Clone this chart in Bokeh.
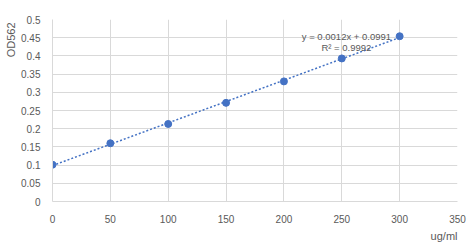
import numpy as np
from bokeh.plotting import figure
from bokeh.models import FixedTicker, Label, Range1d, Title
from bokeh.embed import file_html
from bokeh.resources import INLINE

conc = [0, 50, 100, 150, 200, 250, 300]
od562 = [0.101, 0.160, 0.213, 0.271, 0.330, 0.393, 0.454]

x_ticks = [0, 50, 100, 150, 200, 250, 300, 350]
x_tick_labels = ["0", "50", "100", "150", "200", "250", "300", "350"]
y_ticks = [0, 0.05, 0.1, 0.15, 0.2, 0.25, 0.3, 0.35, 0.4, 0.45, 0.5]
y_tick_labels = ["0", "0.05", "0.1", "0.15", "0.2", "0.25", "0.3", "0.35", "0.4", "0.45", "0.5"]

eq_text = "y = 0.0012x + 0.0991"
r2_text = "R² = 0.9992"

BLUE = "#4472C4"
GRID = "#D9D9D9"
TXT = "#595959"
FONT = "Liberation Sans"

p = figure(width=474, height=243, output_backend="svg", toolbar_location=None,
           x_range=Range1d(0, 350), y_range=Range1d(0, 0.5),
           min_border_left=0, min_border_right=17, min_border_top=19, min_border_bottom=3)
p.outline_line_color = None
p.background_fill_color = "white"
p.border_fill_color = "white"

p.xaxis.ticker = FixedTicker(ticks=x_ticks)
p.yaxis.ticker = FixedTicker(ticks=y_ticks)
p.xaxis.major_label_overrides = {t: l for t, l in zip(x_ticks, x_tick_labels)}
p.yaxis.major_label_overrides = {t: l for t, l in zip(y_ticks, y_tick_labels)}
for ax in (p.xaxis, p.yaxis):
    ax.major_tick_line_color = None
    ax.minor_tick_line_color = None
    ax.axis_line_color = GRID
    ax.major_label_text_font = FONT
    ax.major_label_text_font_size = "10px"
    ax.major_label_text_color = TXT
    ax.axis_label_standoff = 0
p.xaxis.major_label_standoff = 7
p.yaxis.major_label_standoff = 6

p.xgrid.grid_line_color = GRID
p.ygrid.grid_line_color = GRID
p.xgrid.ticker = FixedTicker(ticks=x_ticks)
p.ygrid.ticker = FixedTicker(ticks=y_ticks)

# trend line from linear fit
slope, intercept = np.polyfit(conc, od562, 1)
xs = np.array([conc[0], conc[-1]])
p.line(xs, slope * xs + intercept, line_color=BLUE, line_width=1.5, line_dash="2 2")

p.scatter(conc, od562, size=7, fill_color=BLUE, line_color=BLUE)

p.add_layout(Label(x=254, y=0.4525, text=eq_text,
                   text_font=FONT, text_font_size="9.5px", text_color=TXT,
                   text_align="center", text_baseline="middle"))
p.add_layout(Label(x=254, y=0.4218, text=r2_text,
                   text_font=FONT, text_font_size="9.5px", text_color=TXT,
                   text_align="center", text_baseline="middle"))

p.add_layout(Title(text="OD562", align="right", text_font=FONT, text_font_size="11px",
                   text_font_style="normal", text_color=TXT, offset=3, standoff=4), "left")
p.add_layout(Title(text="ug/ml", align="right", text_font=FONT, text_font_size="11px",
                   text_font_style="normal", text_color=TXT, standoff=4), "below")

open("out.html", "w").write(file_html(p, INLINE))
